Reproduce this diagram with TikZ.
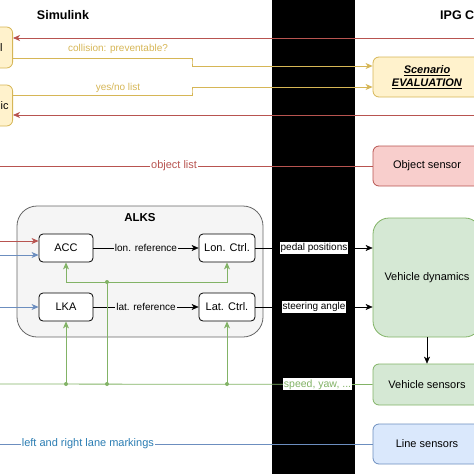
\documentclass[tikz,border=0pt]{standalone}
\usepackage{fontspec}
\setmainfont{Liberation Sans}
\usetikzlibrary{arrows.meta,positioning}
\definecolor{redline}{HTML}{B85450}
\definecolor{redfill}{HTML}{F8CECC}
\definecolor{yelline}{HTML}{D6B656}
\definecolor{yelfill}{HTML}{FFF2CC}
\definecolor{grnline}{HTML}{82B366}
\definecolor{grnfill}{HTML}{D5E8D4}
\definecolor{bluline}{HTML}{6C8EBF}
\definecolor{blufill}{HTML}{DAE8FC}
\definecolor{alksline}{HTML}{666666}
\definecolor{alksfill}{HTML}{F5F5F5}
\definecolor{lanetext}{HTML}{2B7DB3}
\begin{document}
\begin{tikzpicture}[x=1pt,y=-1pt,
    every node/.style={font=\fontsize{11}{13}\selectfont},
    arr/.style={-{Stealth[length=7pt,width=6pt,inset=2pt]}},
    title/.style={font=\bfseries\fontsize{12.5}{14}\selectfont},
    blk/.style={draw=black,fill=white,line width=0.8pt,rounded corners=4pt,minimum width=54pt,minimum height=28pt},
    simbox/.style={draw=yelline,fill=yelfill,line width=0.8pt,rounded corners=6pt,anchor=east,text width=40pt,align=right,minimum height=41pt},
    cmbox/.style={line width=0.8pt,rounded corners=6pt,minimum width=108pt,align=center},
    lbl/.style={font=\fontsize{10}{12}\selectfont,inner sep=1pt},
    redl/.style={draw=redline,line width=0.8pt},
    yell/.style={draw=yelline,line width=0.8pt},
    grnl/.style={draw=grnline,line width=0.8pt},
    blul/.style={draw=bluline,line width=0.8pt}]
    \useasboundingbox (0,0) rectangle (474,474);
    \fill[black] (272,0) rectangle (355,474);

    \node[title] (simtitle) at (63,15) {Simulink};
    \node[title,anchor=west,inner xsep=0pt] (ipgtitle) at (440,15) {IPG C};

    \node[simbox,inner xsep=10pt] (ctrl) at (13,47.5) {l};
    \node[simbox,inner xsep=4pt] (traffic) at (13,105.5) {ic};

    \node[cmbox,draw=yelline,fill=yelfill,minimum height=40pt] (scen) at (427,77)
        {\underline{\textbf{\textit{Scenario}}}\\\underline{\textbf{\textit{EVALUATION}}}};
    \node[cmbox,draw=redline,fill=redfill,minimum height=40pt] (objsens) at (427,166) {Object sensor};
    \node[cmbox,draw=grnline,fill=grnfill,minimum height=119pt,rounded corners=16pt] (vdyn) at (427,277.5) {Vehicle dynamics};
    \node[cmbox,draw=grnline,fill=grnfill,minimum height=41pt] (vsens) at (427,384.5) {Vehicle sensors};
    \node[cmbox,draw=bluline,fill=blufill,minimum height=40pt] (lsens) at (427,444) {Line sensors};

    \node[draw=alksline,fill=alksfill,line width=0.8pt,rounded corners=20pt,minimum width=246pt,minimum height=131pt] (alks) at (140,271.5) {};
    \node[font=\bfseries\fontsize{11.5}{13}\selectfont] (alkstitle) at (140,218) {ALKS};
    \node[blk] (acc) at (66,248) {ACC};
    \node[blk] (lka) at (66,307) {LKA};
    \node[blk,minimum width=56pt] (lon) at (227,248) {Lon. Ctrl.};
    \node[blk,minimum width=56pt] (lat) at (227,307) {Lat. Ctrl.};

    \coordinate (rin1) at (476,38);
    \coordinate (rin2) at (476,115);
    \coordinate (objend) at (-2,166);
    \coordinate (accred) at (-2,241);
    \coordinate (accblu) at (-2,255);
    \coordinate (lkablu) at (-2,307);
    \coordinate (spdend) at (-2,384);
    \coordinate (laneend) at (-2,444);
    \coordinate (j1) at (66,384);
    \coordinate (j2) at (107,384);
    \coordinate (j3) at (227,384);
    \coordinate (j4) at (107,282);

    \draw[redl,arr] (rin1) -- (rin1 -| ctrl.east);
    \draw[redl,arr] (rin2) -- (rin2 -| traffic.east);
    \draw[yell,arr] ([yshift=-10.5pt]ctrl.east) -| (192,62) |- ([yshift=11pt]scen.west);
    \draw[yell,arr] ([yshift=10pt]traffic.east) -| (192,91) |- ([yshift=-10pt]scen.west);
    \node[lbl,text=yelline] (colllbl) at (118,49) {collision: preventable?};
    \node[lbl,text=yelline] (yeslbl) at (118,88) {yes/no list};

    \draw[redl] (objsens) -- node[lbl,pos=0.53,fill=white,text=redline,font=\fontsize{11}{13}\selectfont] {object list} (objend);

    \draw[redl,arr] (accred) -- (accred -| acc.west);
    \draw[blul,arr] (accblu) -- (accblu -| acc.west);
    \draw[blul,arr] (lkablu) -- (lka);
    \draw[arr] (acc) -- node[lbl,fill=alksfill] {lon. reference} (lon);
    \draw[arr] (lka) -- node[lbl,fill=alksfill] {lat. reference} (lat);
    \draw[arr] (lon) -- node[lbl,fill=white] {pedal positions} (lon -| vdyn.west);
    \draw[arr] (lat) -- node[lbl,fill=white] {steering angle} (lat -| vdyn.west);
    \draw[arr] (vdyn) -- (vsens);

    \draw[grnl] (vsens) -- node[lbl,pos=0.147,fill=white,text=grnline,font=\fontsize{10.5}{12}\selectfont] {speed, yaw, ...} (spdend);
    \draw[grnl,arr] (j1) -- (lka);
    \draw[grnl] (j2) -- (j4);
    \draw[grnl,arr] (j4) -| (acc);
    \draw[grnl,arr] (j4) -| (lon);
    \draw[grnl,arr] (j3) -- (lat);
    \foreach \j in {j1,j2,j3,j4}
        \fill[grnline] (\j) circle (2pt);

    \draw[blul] (lsens) -- node[lbl,pos=0.76,fill=white,text=lanetext,font=\fontsize{11}{13}\selectfont] {left and right lane markings} (laneend);
\end{tikzpicture}
\end{document}
